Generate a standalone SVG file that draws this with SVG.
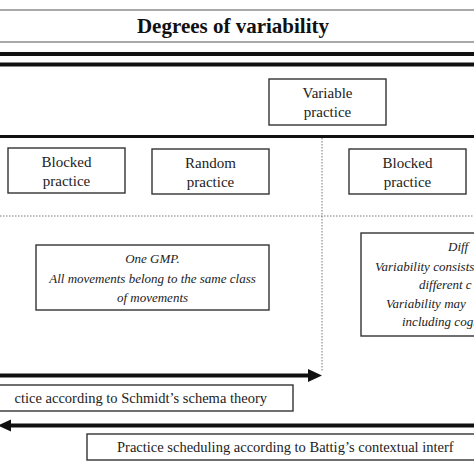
<svg xmlns="http://www.w3.org/2000/svg" width="474" height="474" viewBox="0 0 474 474">
<defs>
<style>
.box{fill:#fff;stroke:#333;stroke-width:1.4}
.t{font-family:"Liberation Serif","Times New Roman",serif;font-size:15px;fill:#222;text-anchor:middle}
.ts{font-family:"Liberation Serif","Times New Roman",serif;font-size:14.5px;fill:#222;text-anchor:start}
.te{font-family:"Liberation Serif","Times New Roman",serif;font-size:14.5px;fill:#222;text-anchor:end}
.i{font-family:"Liberation Serif","Times New Roman",serif;font-size:13px;font-style:italic;fill:#222;text-anchor:middle}
.is{font-family:"Liberation Serif","Times New Roman",serif;font-size:13px;font-style:italic;fill:#222;text-anchor:start}
.thin{stroke:#555;stroke-width:1.2;fill:none}
.thick{stroke:#111;fill:none}
.dot{stroke:#777;stroke-width:1;stroke-dasharray:1.5,1.5;fill:none}
</style>
</defs>
<rect width="474" height="474" fill="#fff"/>
<g id="title">
<line class="thin" x1="0" y1="10" x2="474" y2="10"/>
<line class="thin" x1="0" y1="42" x2="474" y2="42"/>
<text x="233" y="33" font-family="Liberation Serif, Times New Roman, serif" font-size="21" font-weight="bold" fill="#111" text-anchor="middle">Degrees of variability</text>
</g>
<g id="connectors">
<line class="thick" x1="0" y1="54" x2="474" y2="54" stroke-width="4"/>
<line class="thick" x1="0" y1="64.5" x2="474" y2="64.5" stroke-width="4"/>
<line class="thick" x1="0" y1="136.5" x2="474" y2="136.5" stroke-width="3"/>
<line class="dot" x1="322" y1="138" x2="322" y2="372"/>
<line class="dot" x1="0" y1="216" x2="474" y2="216"/>
<line class="thick" x1="0" y1="375.5" x2="310" y2="375.5" stroke-width="4"/>
<polygon points="308,369 322,375.5 308,382" fill="#111"/>
<line class="thick" x1="474" y1="425.5" x2="9" y2="425.5" stroke-width="4"/>
<polygon points="11,419.5 -2,425.5 11,431.5" fill="#111"/>
</g>
<g id="variable-practice">
<rect class="box" x="269" y="79" width="117" height="46"/>
<text class="t" x="327.5" y="98">Variable</text>
<text class="t" x="327.5" y="117">practice</text>
</g>
<g id="blocked-practice-1">
<rect class="box" x="8" y="148" width="117" height="45"/>
<text class="t" x="66.5" y="167">Blocked</text>
<text class="t" x="66.5" y="186">practice</text>
</g>
<g id="random-practice">
<rect class="box" x="152" y="149" width="117" height="45"/>
<text class="t" x="210.5" y="168">Random</text>
<text class="t" x="210.5" y="187">practice</text>
</g>
<g id="blocked-practice-2">
<rect class="box" x="349" y="149" width="117" height="45"/>
<text class="t" x="407.5" y="168">Blocked</text>
<text class="t" x="407.5" y="187">practice</text>
</g>
<g id="one-gmp">
<rect class="box" x="36" y="245" width="233" height="65"/>
<text class="i" x="152.5" y="263">One GMP.</text>
<text class="i" x="152.5" y="283">All movements belong to the same class</text>
<text class="i" x="152.5" y="302">of  movements</text>
</g>
<g id="different-gmps">
<rect class="box" x="361" y="233" width="130" height="103"/>
<text class="is" x="448" y="251">Diff</text>
<text class="is" x="375" y="271">Variability consists</text>
<text class="is" x="419" y="289">different c</text>
<text class="is" x="386" y="308">Variability may</text>
<text class="is" x="402" y="326">including cogn</text>
</g>
<g id="schmidt">
<rect class="box" x="-5" y="385" width="298" height="26"/>
<text class="te" x="267" y="403">ctice according to Schmidt’s schema theory</text>
</g>
<g id="battig">
<rect class="box" x="87" y="434" width="400" height="26"/>
<text class="ts" x="117" y="452">Practice scheduling according to Battig’s contextual interf</text>
</g>
</svg>
